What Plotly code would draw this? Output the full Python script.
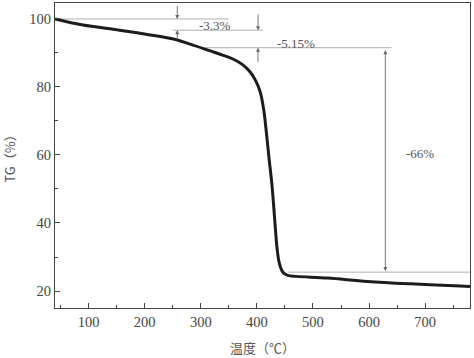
import plotly.graph_objects as go

# Data
temp = [40, 90, 151, 210, 258, 281, 317, 340, 360, 375, 388, 398, 406, 412, 417, 422, 427, 432, 436, 440, 446, 455, 470, 526, 597, 674, 763, 780]
tg = [100, 98.2, 96.8, 95.3, 93.8, 92.6, 90.6, 89.3, 88.0, 86.5, 84.4, 81.8, 78.5, 73.5, 66.5, 58.5, 51.0, 40.5, 32.5, 28.2, 25.6, 24.6, 24.3, 23.8, 22.8, 22.1, 21.5, 21.3]
loss_labels = ["-3.3%", "-5.15%", "-66%"]
loss_values = [3.3, 5.15, 66]
x_ticks = [100, 200, 300, 400, 500, 600, 700]
y_ticks = [20, 40, 60, 80, 100]

lvl0 = 100
lvl1 = lvl0 - loss_values[0]
lvl2 = lvl1 - loss_values[1]
lvl3 = lvl2 - loss_values[2]

SERIF = "Liberation Serif"
GUIDE = "#9a9a9a"

fig = go.Figure()

def hline(x0, x1, y):
    fig.add_trace(go.Scatter(x=[x0, x1], y=[y, y], mode="lines",
                             line=dict(color=GUIDE, width=0.8),
                             hoverinfo="skip", showlegend=False))

hline(40, 350, lvl0)
hline(250, 410, lvl1)
hline(300, 640, lvl2)
hline(455, 780, lvl3)

fig.add_trace(go.Scatter(x=temp, y=tg, mode="lines",
                         line=dict(color="#1c1c1c", width=3, shape="spline", smoothing=1.0),
                         showlegend=False))

def arrow(x, y_head, y_tail, both=False):
    fig.add_annotation(x=x, y=y_head, ax=x, ay=y_tail, xref="x", yref="y",
                       axref="x", ayref="y", text="", showarrow=True,
                       arrowhead=2, arrowsize=0.9, arrowwidth=0.9,
                       arrowcolor="#666", startarrowhead=2, startarrowsize=0.9,
                       arrowside="end+start" if both else "end")

arrow(258, lvl0, 104.3)
arrow(258, lvl1, 93.7)
arrow(402, lvl1, 101.8)
arrow(402, lvl2, 87.0)
arrow(629, lvl3 + 0.3, lvl2 - 0.3, both=True)

tfont = dict(family=SERIF, size=13, color="#555")
fig.add_annotation(x=326, y=98.1, text=loss_labels[0], showarrow=False, font=tfont)
fig.add_annotation(x=469, y=92.9, text=loss_labels[1], showarrow=False, font=tfont)
fig.add_annotation(x=690, y=60.3, text=loss_labels[2], showarrow=False, font=tfont)

axis_common = dict(showgrid=False, zeroline=False, showline=True, linecolor="#444",
                   linewidth=1.2, mirror=True, ticks="inside", ticklen=5,
                   tickcolor="#444", tickwidth=1, automargin=False,
                   tickfont=dict(family=SERIF, size=14.5, color="#444"))

fig.update_xaxes(range=[40, 780], tickvals=x_ticks,
                 minor=dict(ticks="inside", ticklen=3, dtick=50, tick0=0, tickcolor="#444"),
                 title=dict(text="温度（℃）", font=dict(family="Noto Sans CJK SC", size=13, color="#555"),
                            standoff=15),
                 **axis_common)
fig.update_yaxes(range=[15, 104.7], tickvals=y_ticks,
                 minor=dict(ticks="inside", ticklen=3, dtick=10, tick0=0, tickcolor="#444"),
                 title=dict(text="TG（%）", font=dict(family="Noto Sans CJK SC", size=13, color="#555"),
                            standoff=14),
                 **axis_common)

fig.update_layout(width=474, height=358, margin=dict(l=55, r=4, t=3, b=50),
                  plot_bgcolor="white", paper_bgcolor="white")

fig.write_html("out.html", config={"displayModeBar": False},
               post_script="document.body.style.margin='0';document.body.style.padding='0';document.body.style.overflow='hidden';")
